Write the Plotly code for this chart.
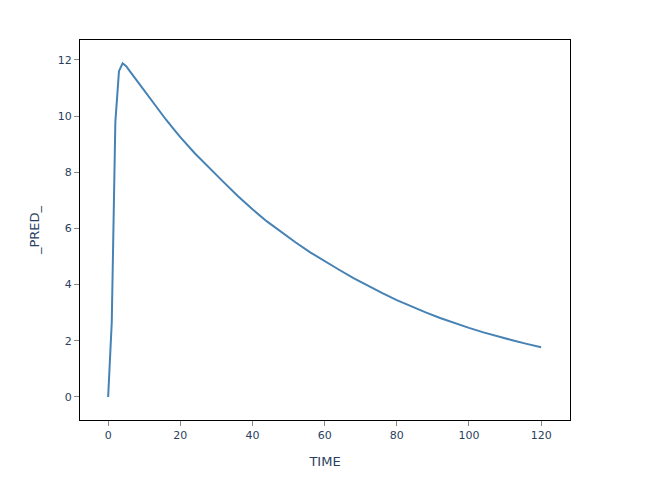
import plotly.graph_objects as go

time = [0, 1, 2, 3, 4, 5, 6, 8, 10, 12, 14, 16, 18, 20, 24, 28, 32, 36, 40, 44, 48,
        52, 56, 60, 64, 68, 72, 76, 80, 84, 88, 92, 96, 100, 104, 108, 112, 116, 120]
pred = [0, 2.65, 9.8, 11.6, 11.88, 11.78, 11.6, 11.25, 10.9, 10.56, 10.22, 9.88, 9.56,
        9.25, 8.68, 8.15, 7.65, 7.15, 6.68, 6.25, 5.86, 5.5, 5.15, 4.83, 4.53, 4.23,
        3.95, 3.7, 3.45, 3.22, 3.01, 2.81, 2.63, 2.46, 2.3, 2.15, 2.02, 1.89, 1.77]

fig = go.Figure(go.Scatter(x=time, y=pred, mode="lines",
                           line=dict(color="#4682b4", width=2)))

axis_style = dict(showline=True, linecolor="black", linewidth=1, mirror=True,
                  ticks="outside", tickcolor="#888", ticklen=5, showgrid=False,
                  zeroline=False)
fig.update_layout(
    width=650, height=500,
    template="plotly",
    font=dict(family="DejaVu Sans", size=11, color="#2a3f5f"),
    plot_bgcolor="white", paper_bgcolor="white",
    margin=dict(l=80, r=80, t=40, b=80),
    xaxis=dict(title=dict(text="TIME", font=dict(size=13)), range=[-7.8, 128], **axis_style),
    yaxis=dict(title=dict(text="_PRED_", font=dict(size=13)), range=[-0.82, 12.71], **axis_style),
    showlegend=False,
)
fig.write_html("out.html", config={"displayModeBar": False},
               post_script="document.body.style.margin='0px';document.body.style.overflow='hidden';")
